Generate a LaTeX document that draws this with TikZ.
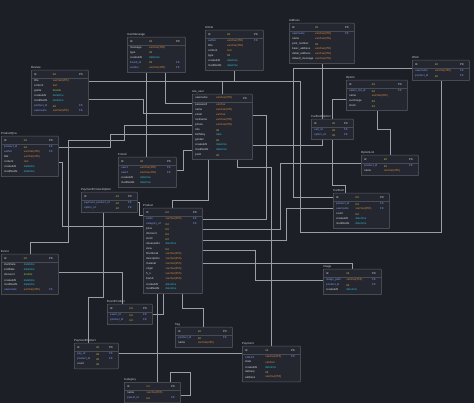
\documentclass[tikz,border=0pt]{standalone}
\usepackage{fontspec}
\setmainfont{Liberation Sans}
\usetikzlibrary{arrows.meta}
\definecolor{bgc}{HTML}{1D1F26}
\definecolor{boxf}{HTML}{24272F}
\definecolor{boxd}{HTML}{5A5F69}
\definecolor{sepc}{HTML}{474B54}
\definecolor{titc}{HTML}{CDD0D6}
\definecolor{cw}{HTML}{D6D8DC}
\definecolor{cb}{HTML}{7F9CF5}
\definecolor{tyo}{HTML}{E08A3C}
\definecolor{tyy}{HTML}{D8C64A}
\definecolor{tyc}{HTML}{2FB8CC}
\definecolor{tyg}{HTML}{9BC53D}
\definecolor{connc}{HTML}{9A9EA7}
\pgfdeclarelayer{back}
\pgfdeclarelayer{wires}
\pgfsetlayers{back,wires,main}
\tikzset{
  tblbox/.style={draw=boxd,fill=boxf,line width=.5pt,rounded corners=.6pt,inner sep=0pt},
  tbltitle/.style={text=titc,inner sep=0pt,yshift=1pt,font=\fontsize{2.9}{3.2}\selectfont},
  tblsep/.style={draw=sepc,line width=.4pt},
  cell/.style={anchor=west,inner sep=0pt,font=\fontsize{2.8}{3.1}\selectfont},
  conn/.style={draw=connc,line width=.55pt}
}
\newcommand{\ertable}[9]{%
  \pgfmathsetmacro\erh{10.5+5*#6}
  \node[tblbox,minimum width=#4pt,minimum height=\erh pt,anchor=north west] (#1) at (#2,#3) {};
  \node[tbltitle,anchor=south west] (#1-title) at (#2,#3) {#5};
  \draw[tblsep] (#2,#3+8) -- (#2+#4,#3+8);
  \foreach \rn/\rc/\rt/\rtc/\rk in {#8} {
    \node[cell,text=\rc] (#1-hn) at (#2+3,#3+4.2) {\rn};
    \node[cell,text=\rtc] (#1-ht) at (#2+#7*#4,#3+4.2) {\rt};
    \node[cell,text=cw] (#1-hk) at (#2+#4-9,#3+4.2) {\rk};
  }
  \foreach \rn/\rc/\rt/\rtc/\rk [count=\ri] in {#9} {
    \node[cell,text=\rc] (#1-n\ri) at (#2+3,#3+8+5*\ri-2) {\rn};
    \node[cell,text=\rtc] (#1-t\ri) at (#2+#7*#4,#3+8+5*\ri-2) {\rt};
    \node[cell,text=cb] (#1-k\ri) at (#2+#4-9,#3+8+5*\ri-2) {\rk};
  }
}
\begin{document}
\begin{tikzpicture}[x=1pt,y=-1pt]
\useasboundingbox (0,0) rectangle (474,403);
\begin{pgfonlayer}{back}
\fill[bgc] (0,0) rectangle (474,403);
\end{pgfonlayer}

\ertable{um}{127}{37}{58}{UserMessage}{5}{0.38}{Id/cw/int/tyy/PK}{message/cw/varchar(255)/tyo/,type/cw/int/tyy/,createdAt/cw/datetime/tyc/,board\_id/cb/int/tyy/FK,sender/cb/varchar(255)/tyo/FK}
\ertable{ar}{205}{30}{58}{Article}{6}{0.38}{Id/cw/int/tyy/PK}{author/cb/varchar(255)/tyo/FK,title/cw/varchar(255)/tyo/,content/cw/text/tyo/,type/cw/int/tyy/,createdAt/cw/datetime/tyc/,modifiedAt/cw/datetime/tyc/}
\ertable{ad}{289}{23}{65}{Address}{6}{0.4}{Id/cw/int/tyy/PK}{username/cb/varchar(255)/tyo/FK,name/cw/varchar(255)/tyo/,post\_number/cw/int/tyy/,basic\_address/cw/varchar(255)/tyo/,detail\_address/cw/varchar(255)/tyo/,default\_message/cw/varchar(255)/tyo/}
\ertable{rv}{31}{70}{57}{Review}{7}{0.38}{Id/cw/int/tyy/PK}{title/cw/varchar(255)/tyo/,content/cw/text/tyo/,grade/cw/double/tyg/,createdAt/cw/datetime/tyc/,modifiedAt/cw/datetime/tyc/,product\_id/cb/int/tyy/FK,username/cb/varchar(255)/tyo/FK}
\ertable{su}{192}{94}{60}{site\_user}{11}{0.4}{username/cw/varchar(255)/tyo/PK}{password/cw/varchar/tyo/,name/cw/varchar(255)/tyo/,email/cw/varchar/tyo/,nickname/cw/varchar(255)/tyo/,phone/cw/varchar(255)/tyo/,role/cw/int/tyy/,birthday/cw/date/tyc/,gender/cw/int/tyy/,createdAt/cw/datetime/tyc/,modifiedAt/cw/datetime/tyc/,point/cw/int/tyy/}
\ertable{wi}{412}{60}{57}{Wish}{2}{0.4}{Id/cw/int/tyy/PK}{username/cb/varchar(255)/tyo/FK,product\_id/cb/int/tyy/FK}
\ertable{op}{346}{80}{61}{Option}{4}{0.42}{Id/cw/int/tyy/PK}{option\_list\_id/cb/int/tyy/FK,name/cw/varchar(255)/tyo/,surcharge/cw/int/tyy/,stock/cw/int/tyy/}
\ertable{co}{311}{119}{42}{CartItemOption}{2}{0.5}{Id/cw/int/tyy/PK}{cart\_id/cb/int/tyy/FK,option\_id/cb/int/tyy/FK}
\ertable{ol}{361}{155}{57}{OptionList}{2}{0.4}{Id/cw/int/tyy/PK}{product\_id/cb/int/tyy/FK,name/cw/varchar(255)/tyo/}
\ertable{pq}{1}{136}{57}{ProductQna}{6}{0.4}{Id/cw/int/tyy/PK}{product\_id/cb/int/tyy/FK,author/cb/varchar(255)/tyo/FK,title/cw/varchar(255)/tyo/,content/cw/text/tyo/,createdAt/cw/datetime/tyc/,modifiedAt/cw/datetime/tyc/}
\ertable{fr}{118}{157}{58}{Friend}{4}{0.38}{Id/cw/int/tyy/PK}{user1/cb/varchar(255)/tyo/FK,user2/cb/varchar(255)/tyo/FK,createdAt/cw/datetime/tyc/,modifiedAt/cw/datetime/tyc/}
\ertable{ppo}{81}{192}{56}{PaymentProductOption}{2}{0.62}{Id/cw/int/tyy/PK}{payment\_product\_id/cb/int/tyy/FK,option\_id/cb/int/tyy/FK}
\ertable{pr}{143}{208}{59}{Product}{15}{0.38}{Id/cw/int/tyy/PK}{seller/cb/varchar(255)/tyo/FK,category\_id/cb/int/tyy/FK,price/cw/int/tyy/,discount/cw/int/tyy/,stock/cw/int/tyy/,releasedAt/cw/datetime/tyc/,view/cw/int/tyy/,thumbnail/cw/varchar(255)/tyo/,description/cw/varchar(255)/tyo/,material/cw/varchar(255)/tyo/,origin/cw/varchar(255)/tyo/,h\_s/cw/varchar(255)/tyo/,brand/cw/varchar(255)/tyo/,createdAt/cw/datetime/tyc/,modifiedAt/cw/datetime/tyc/}
\ertable{ci}{333}{193}{56}{CartItem}{5}{0.4}{Id/cw/int/tyy/PK}{product\_id/cb/int/tyy/FK,username/cb/varchar(255)/tyo/FK,count/cw/int/tyy/,createdAt/cw/datetime/tyc/,modifiedAt/cw/datetime/tyc/}
\ertable{ev}{1}{254}{57}{Event}{6}{0.4}{Id/cw/int/tyy/PK}{startDate/cw/datetime/tyc/,endDate/cw/datetime/tyc/,discount/cw/double/tyg/,createdAt/cw/datetime/tyc/,modifiedAt/cw/datetime/tyc/,username/cb/varchar(255)/tyo/FK}
\ertable{im}{323}{269}{58}{Image}{3}{0.4}{Id/cw/int/tyy/PK}{image\_path/cb/varchar(255)/tyo/FK,product\_id/cb/int/tyy/FK,createdAt/cw/datetime/tyc/}
\ertable{ep}{107}{304}{45}{EventProduct}{2}{0.5}{Id/cw/int/tyy/PK}{event\_id/cb/int/tyy/FK,product\_id/cb/int/tyy/FK}
\ertable{pp}{74}{343}{44}{PaymentProduct}{3}{0.5}{Id/cw/int/tyy/PK}{pay\_id/cb/int/tyy/FK,product\_id/cb/int/tyy/FK,count/cw/int/tyy/}
\ertable{tg}{175}{327}{57}{Tag}{2}{0.4}{Id/cw/int/tyy/PK}{product\_id/cb/int/tyy/FK,name/cw/varchar(255)/tyo/}
\ertable{pa}{242}{346}{58}{Payment}{5}{0.4}{Id/cw/int/tyy/PK}{orderId/cb/varchar(255)/tyo/PK,state/cw/varchar/tyo/,createdAt/cw/datetime/tyc/,delivery/cw/int/tyy/,address/cw/varchar(255)/tyo/}
\ertable{ca}{124}{382}{56}{Category}{2}{0.4}{Id/cw/int/tyo/PK}{name/cw/varchar(255)/tyo/,parent\_id/cb/int/tyy/FK}

\begin{pgfonlayer}{wires}
\draw[conn] (rv.east|-0,81) -- (300,81) -- (300,232) -- (441,232) -- (wi.south-|441,0);
\draw[conn] (rv.east|-0,99) -- (143,99) -- (143,113) -- (su.west|-0,113);
\draw[conn] (ev.north-|30,0) -- (30,242) -- (68,242) -- (68,140) -- (124,140) -- (124,125) -- (su.west|-0,125);
\draw[conn] (um.south-|165,0) -- (165,103) -- (su.west|-0,103);
\draw[conn] (ar.south-|234,0) -- (234,81) -- (222,81) -- (su.north-|222,0);
\draw[conn] (wi.west|-0,68) -- (293,68) -- (293,197) -- (ci.west|-0,197);
\draw[conn] (op.south-|377,0) -- (377,129) -- (390,129) -- (ol.north-|390,0);
\draw[conn] (ad.south-|322,0) -- (322,145) -- (su.east|-0,145);
\draw[conn] (co.north-|332,0) -- (332,99) -- (op.west|-0,99);
\draw[conn] (ol.west|-0,163) -- (280,163) -- (280,229) -- (pr.east|-0,229);
\draw[conn] (su.east|-0,115) -- (266,115) -- (266,219) -- (pr.east|-0,219);
\draw[conn] (ci.west|-0,208) -- (286,208) -- (286,240) -- (pr.east|-0,240);
\draw[conn] (pq.east|-0,162) -- (62,162) -- (62,226) -- (pr.west|-0,226);
\draw[conn] (pq.east|-0,147) -- (110,147) -- (110,134) -- (su.west|-0,134);
\draw[conn] (um.south-|146,0) -- (fr.north-|146,0);
\draw[conn] (fr.east|-0,170) -- (183,170) -- (183,150) -- (su.west|-0,150);
\draw[conn] (su.south-|208,0) -- (208,200) -- (172,200) -- (pr.north-|172,0);
\draw[conn] (su.south-|237,0) -- (237,167) -- (271,167) -- (pa.north-|271,0);
\draw[conn] (ev.east|-0,272) -- (122,272) -- (ep.north-|122,0);
\draw[conn] (ppo.south-|103,0) -- (103,297) -- (88,297) -- (pp.north-|88,0);
\draw[conn] (ppo.east|-0,202) -- (139,202) -- (139,215) -- (pr.west|-0,215);
\draw[conn] (pr.south-|157,0) -- (ca.north-|157,0);
\draw[conn] (pr.south-|182,0) -- (182,308) -- (203,308) -- (tg.north-|203,0);
\draw[conn] (pr.east|-0,263) -- (352,263) -- (im.north-|352,0);
\draw[conn] (im.west|-0,280) -- (255,280) -- (255,250) -- (pr.east|-0,250);
\draw[conn] (pp.east|-0,353) -- (pa.west|-0,353);
\draw[conn] (co.south-|332,0) -- (332,185) -- (345,185) -- (ci.north-|345,0);
\draw[conn] (ep.east|-0,314) -- (163,314) -- (pr.south-|163,0);
\draw[conn] (ca.east|-0,395) -- (190,395) -- (190,372) -- (170,372) -- (ca.north-|170,0);
\end{pgfonlayer}
\end{tikzpicture}
\end{document}
